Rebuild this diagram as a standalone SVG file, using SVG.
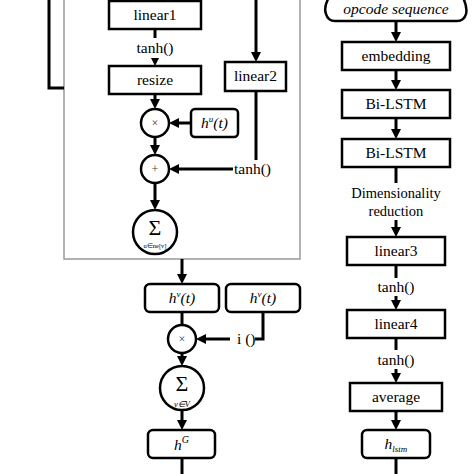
<svg xmlns="http://www.w3.org/2000/svg" width="474" height="474" viewBox="0 0 474 474">
<defs>
<marker id="ah" viewBox="0 0 10 10" refX="2" refY="5" markerWidth="10" markerHeight="10" markerUnits="userSpaceOnUse" orient="auto">
<path d="M0,0 L10,5 L0,10 z" fill="#000"/>
</marker>
</defs>
<style>
.box{fill:#fff;stroke:#000;stroke-width:2.5}
.circ{fill:#fff;stroke:#000;stroke-width:2.5}
.ln{fill:none;stroke:#000;stroke-width:3}
.arr{fill:none;stroke:#000;stroke-width:3;marker-end:url(#ah)}
.t{font-family:"Liberation Serif","Times New Roman",serif;font-size:15.5px;fill:#000;text-anchor:middle}
.it{font-style:italic}
.op{font-family:"Liberation Serif","Times New Roman",serif;font-size:12px;fill:#444;text-anchor:middle}
</style>
<rect width="474" height="474" fill="#fff"/>
<rect id="frame" x="64" y="-10" width="236" height="269" fill="none" stroke="#999" stroke-width="1.5"/>
<g id="connectors">
<path class="ln" d="M49,0 V88 H64"/>
<line class="ln" x1="155" y1="29" x2="155" y2="38"/>
<polygon points="151,58 159,58 155,66" fill="#000"/>
<line class="arr" x1="155" y1="94" x2="155" y2="101"/>
<line class="arr" x1="191" y1="123" x2="177" y2="123"/>
<line class="arr" x1="155" y1="137" x2="155" y2="147"/>
<line class="arr" x1="155" y1="183" x2="155" y2="202"/>
<line class="arr" x1="256" y1="0" x2="256" y2="54"/>
<line class="ln" x1="256" y1="91" x2="256" y2="160"/>
<line class="arr" x1="233" y1="169" x2="177" y2="169"/>
<line class="arr" x1="182" y1="259" x2="182" y2="276"/>
<line class="ln" x1="182" y1="312" x2="182" y2="325"/>
<path class="ln" d="M263,312 V339 H255"/>
<line class="arr" x1="230" y1="339" x2="204" y2="339"/>
<line class="arr" x1="182" y1="353" x2="182" y2="358"/>
<line class="arr" x1="182" y1="410" x2="182" y2="422"/>
<line class="ln" x1="182" y1="458" x2="182" y2="474"/>
<line class="arr" x1="396" y1="21" x2="396" y2="34"/>
<line class="arr" x1="396" y1="70" x2="396" y2="82"/>
<line class="arr" x1="396" y1="118" x2="396" y2="131"/>
<line class="ln" x1="396" y1="167" x2="396" y2="183"/>
<line class="arr" x1="396" y1="220" x2="396" y2="229"/>
<line class="ln" x1="396" y1="265" x2="396" y2="278"/>
<line class="arr" x1="396" y1="296" x2="396" y2="302"/>
<line class="ln" x1="396" y1="338" x2="396" y2="350"/>
<line class="arr" x1="396" y1="369" x2="396" y2="375"/>
<line class="arr" x1="396" y1="411" x2="396" y2="422"/>
<line class="ln" x1="396" y1="458" x2="396" y2="474"/>
</g>
<g id="lbl-tanh1"><text class="t" x="155" y="53">tanh()</text></g>
<g id="lbl-tanh2"><text class="t" x="234" y="174" style="text-anchor:start">tanh()</text></g>
<g id="lbl-i"><text class="t" x="237" y="344" style="text-anchor:start">i ()</text></g>
<g id="linear1"><rect class="box" x="109" y="1" width="92" height="28"/><text class="t" x="155" y="20">linear1</text></g>
<g id="resize"><rect class="box" x="109" y="66" width="92" height="28"/><text class="t" x="155" y="85">resize</text></g>
<g id="mul1"><circle class="circ" cx="155" cy="123" r="14"/><text class="op" x="155" y="127">×</text></g>
<g id="hu"><rect class="box" x="191" y="109" width="47" height="28" rx="4"/><text class="t it" x="214.5" y="128">h<tspan font-size="9" dy="-6">u</tspan><tspan dy="6">(t)</tspan></text></g>
<g id="add1"><circle class="circ" cx="155" cy="169" r="14"/><text class="op" x="155" y="173">+</text></g>
<g id="sum1"><circle class="circ" cx="155" cy="232" r="22"/><text class="t" x="155" y="235" style="font-size:22px">Σ</text><text class="t" x="155" y="248" style="font-size:6.5px">u∈ne[v]</text></g>
<g id="linear2"><rect class="box" x="225" y="62" width="61" height="29"/><text class="t" x="255.5" y="81">linear2</text></g>
<g id="hv1"><rect class="box" x="145" y="284" width="74" height="28" rx="5"/><text class="t it" x="182" y="303">h<tspan font-size="9" dy="-6">v</tspan><tspan dy="6">(t)</tspan></text></g>
<g id="hv2"><rect class="box" x="226" y="284" width="74" height="28" rx="5"/><text class="t it" x="263" y="303">h<tspan font-size="9" dy="-6">v</tspan><tspan dy="6">(t)</tspan></text></g>
<g id="mul2"><circle class="circ" cx="182" cy="339" r="14"/><text class="op" x="182" y="343">×</text></g>
<g id="sum2"><circle class="circ" cx="182" cy="388" r="22"/><text class="t" x="182" y="391" style="font-size:22px">Σ</text><text class="t it" x="182" y="407" style="font-size:8.5px">v∈V</text></g>
<g id="hG"><rect class="box" x="148" y="430" width="67" height="28" rx="5"/><text class="t it" x="181.5" y="450">h<tspan font-size="10" dy="-7">G</tspan></text></g>
<g id="opcode"><path class="box" d="M331,-6 Q323,6 326,14 Q328,21 335,21 H457 Q464,21 466,14 Q468,6 461,-6"/><text class="t it" x="396" y="14">opcode sequence</text></g>
<g id="embedding"><rect class="box" x="342" y="42" width="108" height="28"/><text class="t" x="396" y="61">embedding</text></g>
<g id="bilstm1"><rect class="box" x="342" y="90" width="108" height="28"/><text class="t" x="396" y="109">Bi-LSTM</text></g>
<g id="bilstm2"><rect class="box" x="342" y="139" width="108" height="28"/><text class="t" x="396" y="158">Bi-LSTM</text></g>
<g id="lbl-dim"><text class="t" x="396" y="198" style="font-size:14.5px">Dimensionality</text><text class="t" x="396" y="216" style="font-size:14.5px">reduction</text></g>
<g id="linear3"><rect class="box" x="347" y="237" width="98" height="28"/><text class="t" x="396" y="256">linear3</text></g>
<g id="lbl-tanh3"><text class="t" x="396" y="292">tanh()</text></g>
<g id="linear4"><rect class="box" x="347" y="310" width="98" height="28"/><text class="t" x="396" y="329">linear4</text></g>
<g id="lbl-tanh4"><text class="t" x="396" y="365">tanh()</text></g>
<g id="average"><rect class="box" x="350" y="383" width="92" height="28"/><text class="t" x="396" y="402">average</text></g>
<g id="hlstm"><rect class="box" x="362" y="430" width="68" height="28" rx="5"/><text class="t it" x="396" y="449">h<tspan font-size="9" dy="3">lstm</tspan></text></g>
</svg>
